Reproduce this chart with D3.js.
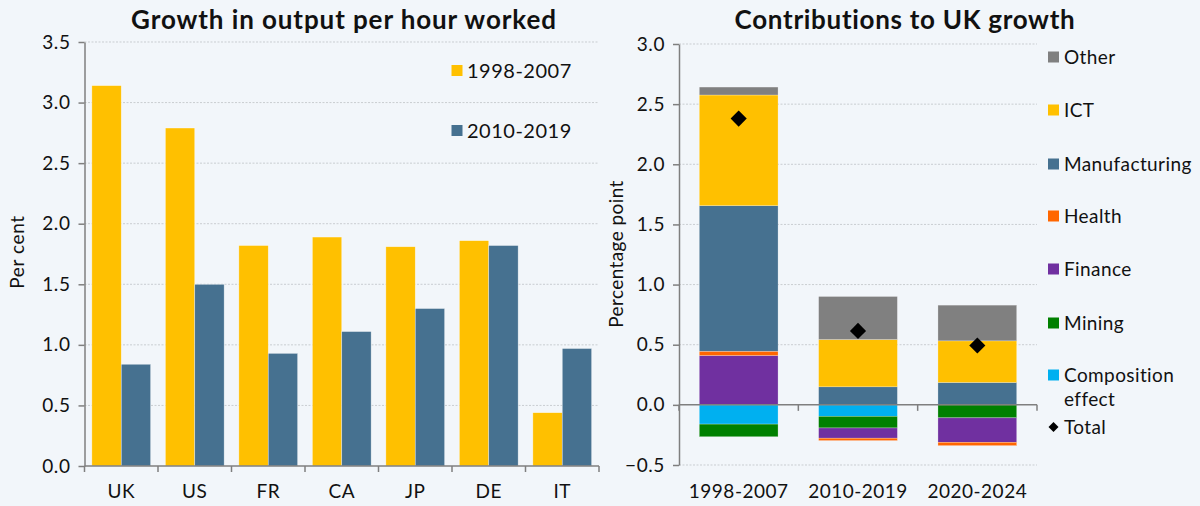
<!DOCTYPE html>
<html><head><meta charset="utf-8">
<script src="https://cdn.jsdelivr.net/npm/d3@7"></script>
<style>
body{margin:0;background:#f2f6fa;}
svg text{font-family:Lato, "Noto Sans", sans-serif;fill:#111;}
</style>
</head><body>
<svg id="c" width="1200" height="506"></svg>
<script>
// ---------- Data: left chart ----------
const countries = ["UK","US","FR","CA","JP","DE","IT"];
const periodsLeft = ["1998-2007","2010-2019"];
const growth9807 = [3.14,2.79,1.82,1.89,1.81,1.86,0.44];
const growth1019 = [0.84,1.50,0.93,1.11,1.30,1.82,0.97];
const leftTicks = [0,0.5,1,1.5,2,2.5,3,3.5];

// ---------- Data: right chart ----------
const periodsRight = ["1998-2007","2010-2019","2020-2024"];
const sectors = ["Composition effect","Mining","Finance","Health","Manufacturing","ICT","Other"];
const composition = [-0.16,-0.095,0];
const mining = [-0.105,-0.097,-0.108];
const finance = [0.41,-0.085,-0.203];
const health = [0.036,-0.02,-0.028];
const manufacturing = [1.21,0.15,0.186];
const ict = [0.92,0.393,0.346];
const other = [0.066,0.358,0.297];
const total = [2.38,0.615,0.493];
const rightTicks = [-0.5,0,0.5,1,1.5,2,2.5,3];

const sectorValues = {"Composition effect":composition,"Mining":mining,"Finance":finance,
  "Health":health,"Manufacturing":manufacturing,"ICT":ict,"Other":other};
const sectorColors = {"Composition effect":"#00b0f0","Mining":"#008000","Finance":"#7030a0",
  "Health":"#ff6600","Manufacturing":"#467190","ICT":"#ffc000","Other":"#808080"};
const leftColors = ["#ffc000","#467190"];

const svg = d3.select("#c");
svg.append("rect").attr("width",1200).attr("height",506).attr("fill","#f2f6fa");
const fmt = d3.format(".1f");
const axisColor = "#7f7f7f";

function drawYAxis(g, y, ticks, x0, x1){
  g.append("g").selectAll("line").data(ticks.filter(t=>t!==0)).join("line")
    .attr("x1",x0).attr("x2",x1).attr("y1",d=>y(d)).attr("y2",d=>y(d))
    .attr("stroke","#c9cdd1").attr("stroke-width",1).attr("stroke-dasharray","2,1.5");
  const ax = g.append("g").attr("transform",`translate(${x0},0)`)
    .call(d3.axisLeft(y).tickValues(ticks).tickFormat(fmt).tickSize(6).tickSizeOuter(0).tickPadding(8));
  ax.select(".domain").attr("stroke",axisColor).attr("stroke-width",1.5);
  ax.selectAll(".tick line").attr("stroke",axisColor).attr("stroke-width",1.5);
  ax.selectAll(".tick text").attr("font-size",19).attr("fill","#111").attr("letter-spacing",0.6)
    .style("font-family","Lato, 'Noto Sans', sans-serif");
}

function drawXAxis(g, x, yPos, labelY){
  const st = x.step(), pi = x.paddingInner();
  const r = x.range();
  const bounds = x.domain().map(d=>x(d)-st*pi/2);
  bounds.push(r[1]);
  g.append("line").attr("x1",r[0]).attr("x2",r[1]).attr("y1",yPos).attr("y2",yPos)
    .attr("stroke",axisColor).attr("stroke-width",1.5);
  g.append("g").selectAll("line").data(bounds).join("line")
    .attr("x1",d=>d).attr("x2",d=>d).attr("y1",yPos).attr("y2",yPos+6)
    .attr("stroke",axisColor).attr("stroke-width",1.5);
  g.append("g").selectAll("text").data(x.domain()).join("text")
    .attr("x",d=>x(d)+x.bandwidth()/2).attr("y",labelY)
    .attr("text-anchor","middle").attr("font-size",19).attr("letter-spacing",0.5).text(d=>d);
}

// ================= LEFT CHART =================
{
  const g = svg.append("g");
  const x = d3.scaleBand().domain(countries).range([84.5,599]).paddingInner(0.2).paddingOuter(0.1);
  const y = d3.scaleLinear().domain([0,3.5]).range([466,42]);
  const xs = d3.scaleBand().domain(periodsLeft).range([0,x.bandwidth()]);
  drawYAxis(g, y, leftTicks, 84.5, 599);
  const series = [growth9807, growth1019];
  periodsLeft.forEach((p,i)=>{
    g.append("g").selectAll("rect").data(countries).join("rect")
      .attr("x",(c)=>x(c)+xs(p)).attr("width",xs.bandwidth())
      .attr("y",(c,j)=>y(series[i][j])).attr("height",(c,j)=>y(0)-y(series[i][j]))
      .attr("fill",leftColors[i]).attr("stroke","#ffffff").attr("stroke-width",0.6).attr("stroke-opacity",0.6);
  });
  drawXAxis(g, x, 466, 498);
  g.append("text").attr("x",344).attr("y",29).attr("text-anchor","middle")
    .attr("font-size",26).attr("font-weight","bold").attr("letter-spacing",0.9)
    .text("Growth in output per hour worked");
  g.append("text").attr("transform","translate(24,252) rotate(-90)").attr("text-anchor","middle")
    .attr("font-size",19).attr("letter-spacing",0.6).text("Per cent");
  const ly = [70.5,130.5];
  periodsLeft.forEach((p,i)=>{
    g.append("rect").attr("x",451.5).attr("y",ly[i]-5.5).attr("width",11).attr("height",11).attr("fill",leftColors[i]);
    g.append("text").attr("x",467).attr("y",ly[i]+7).attr("font-size",20).attr("letter-spacing",0.5).text(p);
  });
}

// ================= RIGHT CHART =================
{
  const g = svg.append("g");
  const x = d3.scaleBand().domain(periodsRight).range([679,1037]).paddingInner(0.34).paddingOuter(0.17);
  const y = d3.scaleLinear().domain([-0.5,3]).range([465,44]);
  drawYAxis(g, y, rightTicks, 679, 1037);
  const rows = periodsRight.map((p,i)=>{
    const o = {period:p};
    sectors.forEach(s=>o[s]=sectorValues[s][i]);
    return o;
  });
  const stacked = d3.stack().keys(sectors).offset(d3.stackOffsetDiverging)(rows);
  g.append("g").selectAll("g").data(stacked).join("g").attr("fill",d=>sectorColors[d.key])
    .selectAll("rect").data(d=>d).join("rect")
      .attr("x",d=>x(d.data.period)).attr("width",x.bandwidth())
      .attr("y",d=>y(Math.max(d[0],d[1]))).attr("height",d=>Math.abs(y(d[0])-y(d[1])))
      .attr("stroke","#ffffff").attr("stroke-width",0.5).attr("stroke-opacity",0.5);
  drawXAxis(g, x, y(0), 498);
  g.append("g").selectAll("path").data(periodsRight).join("path")
    .attr("d",d3.symbol(d3.symbolSquare,130)())
    .attr("transform",(p,i)=>`translate(${x(p)+x.bandwidth()/2},${y(total[i])}) rotate(45)`)
    .attr("fill","#000");
  g.append("text").attr("x",905).attr("y",29).attr("text-anchor","middle")
    .attr("font-size",26).attr("font-weight","bold").attr("letter-spacing",0.7)
    .text("Contributions to UK growth");
  g.append("text").attr("transform","translate(623,254) rotate(-90)").attr("text-anchor","middle")
    .attr("font-size",19).attr("letter-spacing",0.4).text("Percentage point");
  const legendOrder = sectors.slice().reverse();
  const ly = [57,110,164,216,269,323,375];
  legendOrder.forEach((s,i)=>{
    g.append("rect").attr("x",1048).attr("y",ly[i]-5.5).attr("width",11).attr("height",11).attr("fill",sectorColors[s]);
    const t = g.append("text").attr("x",1064).attr("y",ly[i]+7).attr("font-size",19).attr("letter-spacing",0.4);
    if(s==="Composition effect"){
      t.append("tspan").attr("x",1064).text("Composition");
      t.append("tspan").attr("x",1064).attr("dy",24).text("effect");
    } else t.text(s);
  });
  g.append("path").attr("d",d3.symbol(d3.symbolSquare,50)())
    .attr("transform","translate(1053.5,427) rotate(45)").attr("fill","#000");
  g.append("text").attr("x",1064).attr("y",434).attr("font-size",19).attr("letter-spacing",0.4).text("Total");
}
</script>
</body></html>
